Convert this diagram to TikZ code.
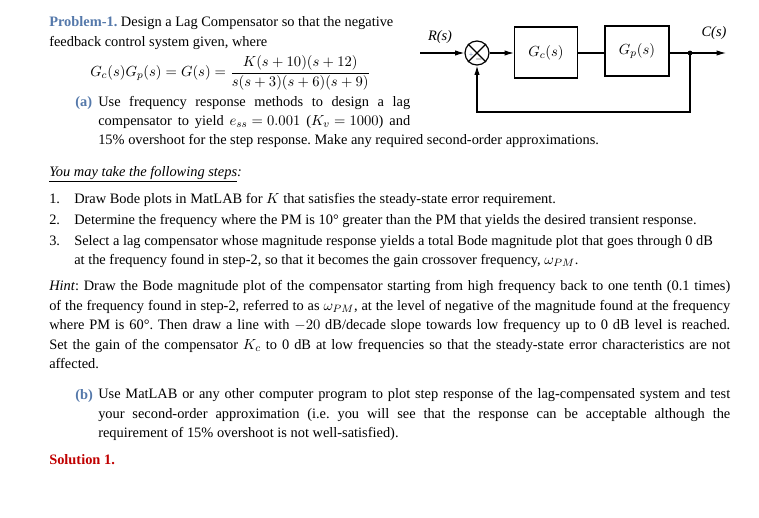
\documentclass[tikz,border=0pt]{standalone}
\usepackage{fontspec}
\setmainfont{Liberation Serif}
\usepackage{amsmath}
\usetikzlibrary{arrows.meta}
\definecolor{probblue}{RGB}{84,120,170}
\definecolor{solred}{RGB}{192,0,0}
\frenchspacing
\begin{document}
\begin{tikzpicture}[x=0.75pt,y=-0.75pt,
  txt/.style={anchor=base west,inner sep=0pt,font=\fontsize{10.8}{12}\selectfont},
  par/.style={txt,text width=#1,align=justify},
  blk/.style={draw,line width=0.9pt,inner sep=0pt},
  sig/.style={line width=0.8pt},
  arr/.style={sig,-{Latex[length=7pt,width=4pt]}}]
\useasboundingbox (0,0) rectangle (759,517);
% text
\node[txt] (l1) at (49,27) {\textcolor{probblue}{\textbf{Problem-1.}} Design a Lag Compensator so that the negative};
\node[txt] (l2) at (49,46) {feedback control system given, where};
\node[txt,anchor=west] (eq) at (90,73) {$G_c(s)G_p(s)=G(s)=\dfrac{K(s+10)(s+12)}{s(s+3)(s+6)(s+9)}$};
\node[txt] (a) at (75,106) {\textcolor{probblue}{\textbf{(a)}}};
\node[txt] (a1) at (98,106) {\hbox to 234pt{Use\hfill frequency\hfill response\hfill methods\hfill to\hfill design\hfill a\hfill lag}};
\node[txt] (a2) at (98,125) {\hbox to 234pt{compensator\hfill to\hfill yield\hfill $e_{ss}=0.001$\hfill ($K_v=1000$)\hfill and}};
\node[txt] (a3) at (98,144) {15\% overshoot for the step response. Make any required second-order approximations.};
\node[txt] (steps) at (49,176) {\textit{\underline{You may take the following steps}:}};
\node[txt] (n1) at (49,203) {1.};
\node[txt] (s1) at (74,203) {Draw Bode plots in MatLAB for $K$ that satisfies the steady-state error requirement.};
\node[txt] (n2) at (49,224) {2.};
\node[txt] (s2) at (74,224) {Determine the frequency where the PM is 10° greater than the PM that yields the desired transient response.};
\node[txt] (n3) at (49,245) {3.};
\node[txt] (s3) at (74,245) {Select a lag compensator whose magnitude response yields a total Bode magnitude plot that goes through 0 dB};
\node[txt] (s3b) at (74,264) {at the frequency found in step-2, so that it becomes the gain crossover frequency, $\omega_{PM}$.};
\node[par=681*0.75pt,anchor=north west,font=\fontsize{10.8}{14.7}\selectfont] (hint) at (49,280) {\textit{Hint}: Draw the Bode magnitude plot of the compensator starting from high frequency back to one tenth (0.1 times)\linebreak of the frequency found in step-2, referred to as $\omega_{PM}$, at the level of negative of the magnitude found at the frequency\linebreak where PM is 60°. Then draw a line with $-20$ dB/decade slope towards low frequency up to 0 dB level is reached.\linebreak Set the gain of the compensator $K_c$ to 0 dB at low frequencies so that the steady-state error characteristics are not\linebreak affected.};
\node[txt] (b) at (75,399) {\textcolor{probblue}{\textbf{(b)}}};
\node[par=632*0.75pt,anchor=north west,font=\fontsize{10.8}{14.7}\selectfont] (btext) at (98,388) {Use MatLAB or any other computer program to plot step response of the lag-compensated system and test\linebreak your second-order approximation (i.e. you will see that the response can be acceptable although the\linebreak requirement of 15\% overshoot is not well-satisfied).};
\node[txt] (sol) at (49,464) {\textcolor{solred}{\textbf{Solution 1.}}};
% block diagram
\coordinate (in) at (420,53);
\node[draw,circle,line width=0.9pt,minimum size=18pt,inner sep=0pt] (sum) at (477,53) {};
\draw[line width=0.9pt] (sum.north west) -- (sum.south east) (sum.north east) -- (sum.south west);
\node[font=\fontsize{6}{6}\selectfont,text=probblue] at (471,55) {+};
\node[font=\fontsize{6}{6}\selectfont] at (479,60) {$-$};
\node[blk,minimum width=47.25pt,minimum height=38.25pt,font=\fontsize{10.8}{12}\selectfont] (gc) at (546,52.5) {$G_c(s)$};
\node[blk,minimum width=48pt,minimum height=37.5pt,font=\fontsize{10.8}{12}\selectfont] (gp) at (637,51) {$G_p(s)$};
\coordinate (br) at (690,53);
\coordinate (out) at (726,53);
\coordinate (fb) at (690,112);
\coordinate (fb2) at (477,112);
\fill (br) circle (1.8pt);
\draw[arr] (in) -- (sum);
\draw[arr] (sum) -- (gc.west|-sum);
\draw[sig] (gc.east|-sum) -- (gp.west|-sum);
\draw[sig] (gp.east|-sum) -- (br);
\draw[arr] (br) -- (out);
\draw[arr] (br) -- (fb) -- (fb2) -- (sum);
\node[font=\fontsize{10.8}{12}\selectfont\itshape] (R) at (440,37) {R(s)};
\node[font=\fontsize{10.8}{12}\selectfont\itshape] (C) at (714,33) {C(s)};
\end{tikzpicture}
\end{document}
